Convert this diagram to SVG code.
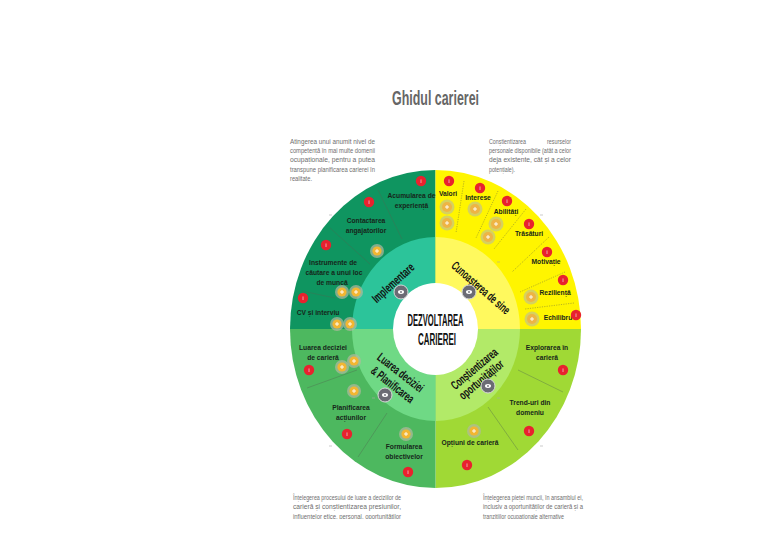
<svg xmlns="http://www.w3.org/2000/svg" width="768" height="543" viewBox="0 0 768 543">
<style>
text{font-family:"Liberation Sans",Arial,sans-serif}
.n{font-family:"Liberation Sans Narrow","Liberation Sans",Arial,sans-serif}
.l{font-size:6.7px;font-weight:700;fill:#16261a;text-anchor:middle}
.s{font-size:7.4px;fill:#6e6e6e}
.r{font-size:12.5px;font-weight:700;fill:#111;text-anchor:middle}
.c{font-size:16px;font-weight:700;fill:#111;text-anchor:middle}
.i{font-size:5.5px;font-weight:400;fill:#fff;text-anchor:middle}
.d{stroke:#4f6650;stroke-width:.7;fill:none;opacity:.55}
.y{stroke:#8a8a30;stroke-width:.6;stroke-dasharray:1.2 1.2;fill:none}
.t{stroke:#aaa;stroke-width:.6}
</style>
<defs>
<g id="plus"><circle r="7" fill="#b4b8a0" opacity=".7"/><circle r="4.6" fill="#f2b632"/><path d="M-2 0H2M0-2V2" stroke="#fff" stroke-width=".9"/></g>
<g id="plusy"><circle r="7.5" fill="#cfca70" opacity=".85"/><circle r="5" fill="#eeb444"/><path d="M-2 0H2M0-2V2" stroke="#fff" stroke-width=".9"/></g>
<circle id="red" r="5.2" fill="#e8222e"/>
<g id="eye"><circle r="7" fill="#6b6b74" stroke="#d8d8d8" stroke-width="1"/><ellipse rx="3" ry="1.9" fill="#fff"/><circle r=".9" fill="#6b6b74"/></g>
<clipPath id="bc"><rect x="280" y="490" width="320" height="29"/></clipPath>
</defs>
<rect width="768" height="543" fill="#fff"/>

<g id="title"><text class="n" x="435.500" y="105" font-size="21" font-weight="700" fill="#666" text-anchor="middle" textLength="87" lengthAdjust="spacingAndGlyphs">Ghidul carierei</text></g>

<g id="note-top-left" class="n">
<text class="s" x="290" y="143.500" textLength="85" lengthAdjust="spacingAndGlyphs">Atingerea unui anumit nivel de</text>
<text class="s" x="290" y="153" textLength="85" lengthAdjust="spacingAndGlyphs">competență în mai multe domenii</text>
<text class="s" x="290" y="162.300" textLength="85" lengthAdjust="spacingAndGlyphs">ocupaționale, pentru a putea</text>
<text class="s" x="290" y="171.500" textLength="85" lengthAdjust="spacingAndGlyphs">transpune planificarea carierei în</text>
<text class="s" x="290" y="180.500" textLength="22" lengthAdjust="spacingAndGlyphs">realitate.</text>
</g>
<g id="note-top-right" class="n">
<text class="s" x="489" y="143.500" textLength="37" lengthAdjust="spacingAndGlyphs">Conștientizarea</text>
<text class="s" x="547" y="143.500" textLength="24" lengthAdjust="spacingAndGlyphs">resurselor</text>
<text class="s" x="489" y="153" textLength="82" lengthAdjust="spacingAndGlyphs">personale disponibile (atât a celor</text>
<text class="s" x="489" y="162.300" textLength="82" lengthAdjust="spacingAndGlyphs">deja existente, cât și a celor</text>
<text class="s" x="489" y="171.500" textLength="26" lengthAdjust="spacingAndGlyphs">potențiale).</text>
</g>
<g id="note-bottom-left" class="n" clip-path="url(#bc)">
<text class="s" x="293" y="499.500" textLength="108" lengthAdjust="spacingAndGlyphs">Înțelegerea procesului de luare a deciziilor de</text>
<text class="s" x="293" y="509" textLength="108" lengthAdjust="spacingAndGlyphs">carieră și conștientizarea presiunilor,</text>
<text class="s" x="293" y="518.500" textLength="108" lengthAdjust="spacingAndGlyphs">influențelor etice, personal, oportunităților</text>
</g>
<g id="note-bottom-right" class="n" clip-path="url(#bc)">
<text class="s" x="483" y="499.500" textLength="100" lengthAdjust="spacingAndGlyphs">Înțelegerea pieței muncii, în ansamblul ei,</text>
<text class="s" x="483" y="509" textLength="100" lengthAdjust="spacingAndGlyphs">inclusiv a oportunităților de carieră și a</text>
<text class="s" x="483" y="518.500" textLength="81" lengthAdjust="spacingAndGlyphs">tranzițiilor ocupaționale alternative</text>
</g>

<g id="wheel">
<path d="M435.500 329V170A145.500 159 0 0 0 290 329Z" fill="#0f9560"/>
<path d="M435.500 329V170A145.500 159 0 0 1 581 329Z" fill="#fff500"/>
<path d="M435.500 329H581A145.500 159 0 0 1 435.500 488Z" fill="#a0d935"/>
<path d="M435.500 329V488A145.500 159 0 0 1 290 329Z" fill="#4db85f"/>
<path d="M435.500 329V237A83.500 92 0 0 0 352 329Z" fill="#2cc49a"/>
<path d="M435.500 329V237A84.500 92 0 0 1 520 329Z" fill="#fff95e"/>
<path d="M435.500 329H520A84.500 92 0 0 1 435.500 421Z" fill="#b2ea68"/>
<path d="M435.500 329V421A83.500 92 0 0 1 352 329Z" fill="#6fd985"/>
<ellipse cx="435.500" cy="329" rx="42.500" ry="46" fill="#fff"/>
</g>

<g id="connectors">
<path class="d" d="M378 190L402 239M330 228L370 264M302 291L335 298M357 370L307 388M387 413L358 457M518 370L563 392M488 407L518 450"/>
<path class="y" d="M464 181L456 233M498 191L476 238M526 209L494 249M549 237L512 272M565 272L520 292M574 303L525 309"/>
<path class="t" d="M329 215H332M540 215H543M497 262H500M372 398H375M329 446H332M497 398H500M540 446H543"/>
</g>

<g id="center"><text class="c n" x="435.500" y="326" textLength="56" lengthAdjust="spacingAndGlyphs">DEZVOLTAREA</text><text class="c n" x="437" y="345" textLength="38" lengthAdjust="spacingAndGlyphs">CARIEREI</text></g>

<g id="implementare"><text class="r n" transform="translate(396 286) rotate(-42)" textLength="52" lengthAdjust="spacingAndGlyphs">Implementare</text><use href="#eye" x="401" y="292"/></g>
<g id="cunoasterea"><text class="r n" transform="translate(478 291) rotate(41)" textLength="73" lengthAdjust="spacingAndGlyphs">Cunoașterea de sine</text><use href="#eye" x="469" y="292"/></g>
<g id="luarea"><text class="r n" transform="translate(398 376) rotate(38)" textLength="55" lengthAdjust="spacingAndGlyphs">Luarea deciziei</text><text class="r n" transform="translate(390 388) rotate(38)" textLength="51" lengthAdjust="spacingAndGlyphs">&amp; Planificarea</text><use href="#eye" x="385" y="395"/></g>
<g id="constientizarea"><text class="r n" transform="translate(477 372) rotate(-40)" textLength="57" lengthAdjust="spacingAndGlyphs">Conștientizarea</text><text class="r n" transform="translate(484 383) rotate(-40)" textLength="54" lengthAdjust="spacingAndGlyphs">oportunităților</text><use href="#eye" x="488" y="386"/></g>

<g id="acumularea"><text class="l" x="411.500" y="198">Acumularea de</text><text class="l" x="411.500" y="208">experiență</text><use href="#red" x="421" y="181"/><text class="i" x="421" y="183">i</text></g>
<g id="contactarea"><text class="l" x="366" y="223">Contactarea</text><text class="l" x="366" y="233">angajatorilor</text><use href="#red" x="369" y="202"/><text class="i" x="369" y="204">i</text><use href="#plus" x="377" y="251"/></g>
<g id="instrumente"><text class="l" x="333" y="265">Instrumente de</text><text class="l" x="334" y="275">căutare a unui loc</text><text class="l" x="332" y="285">de muncă</text><use href="#red" x="326" y="245"/><text class="i" x="326" y="247">i</text><use href="#plus" x="342" y="292"/><use href="#plus" x="356" y="292"/></g>
<g id="cv"><text class="l" x="318" y="315">CV și interviu</text><use href="#red" x="303" y="298"/><text class="i" x="303" y="300">i</text><use href="#plus" x="337" y="324"/><use href="#plus" x="350" y="324"/></g>

<g id="valori"><text class="l" x="448" y="196">Valori</text><use href="#red" x="449" y="181"/><text class="i" x="449" y="183">i</text><use href="#plusy" x="447" y="207"/><use href="#plusy" x="447" y="223"/></g>
<g id="interese"><text class="l" x="478" y="200">Interese</text><use href="#red" x="480" y="188"/><text class="i" x="480" y="190">i</text><use href="#plusy" x="475" y="209"/></g>
<g id="abilitati"><text class="l" x="506" y="214">Abilități</text><use href="#red" x="507" y="201"/><text class="i" x="507" y="203">i</text><use href="#plusy" x="496" y="224"/><use href="#plusy" x="488" y="237"/></g>
<g id="trasaturi"><text class="l" x="529" y="236">Trăsături</text><use href="#red" x="529" y="224"/><text class="i" x="529" y="226">i</text></g>
<g id="motivatie"><text class="l" x="546" y="264">Motivație</text><use href="#red" x="547" y="252"/><text class="i" x="547" y="254">i</text></g>
<g id="rezilienta"><text class="l" x="555" y="295">Reziliență</text><use href="#red" x="563" y="280"/><text class="i" x="563" y="282">i</text><use href="#plusy" x="531" y="297"/></g>
<g id="echilibru"><text class="l" x="558" y="320">Echilibru</text><use href="#plusy" x="532" y="319"/><use href="#red" x="576" y="315"/><text class="i" x="576" y="317">i</text></g>

<g id="explorarea"><text class="l" x="547" y="350">Explorarea în</text><text class="l" x="547" y="360">carieră</text><use href="#red" x="563" y="370"/><text class="i" x="563" y="372">i</text></g>
<g id="trend"><text class="l" x="530" y="405">Trend-uri din</text><text class="l" x="530" y="415">domeniu</text><use href="#red" x="529" y="431"/><text class="i" x="529" y="433">i</text></g>
<g id="optiuni"><text class="l" x="470" y="445">Opțiuni de carieră</text><use href="#plus" x="474" y="431"/><use href="#red" x="467" y="465"/><text class="i" x="467" y="467">i</text></g>

<g id="formularea"><text class="l" x="404" y="449">Formularea</text><text class="l" x="404" y="459">obiectivelor</text><use href="#plus" x="406" y="434"/><use href="#red" x="408" y="472"/><text class="i" x="408" y="474">i</text></g>
<g id="planificarea"><text class="l" x="351" y="410">Planificarea</text><text class="l" x="351" y="420">acțiunilor</text><use href="#plus" x="354" y="391"/><use href="#red" x="347" y="434"/><text class="i" x="347" y="436">i</text></g>
<g id="decizie"><text class="l" x="323" y="350">Luarea deciziei</text><text class="l" x="323" y="360">de carieră</text><use href="#plus" x="354" y="361"/><use href="#plus" x="342" y="367"/><use href="#red" x="309" y="370"/><text class="i" x="309" y="372">i</text></g>
</svg>
